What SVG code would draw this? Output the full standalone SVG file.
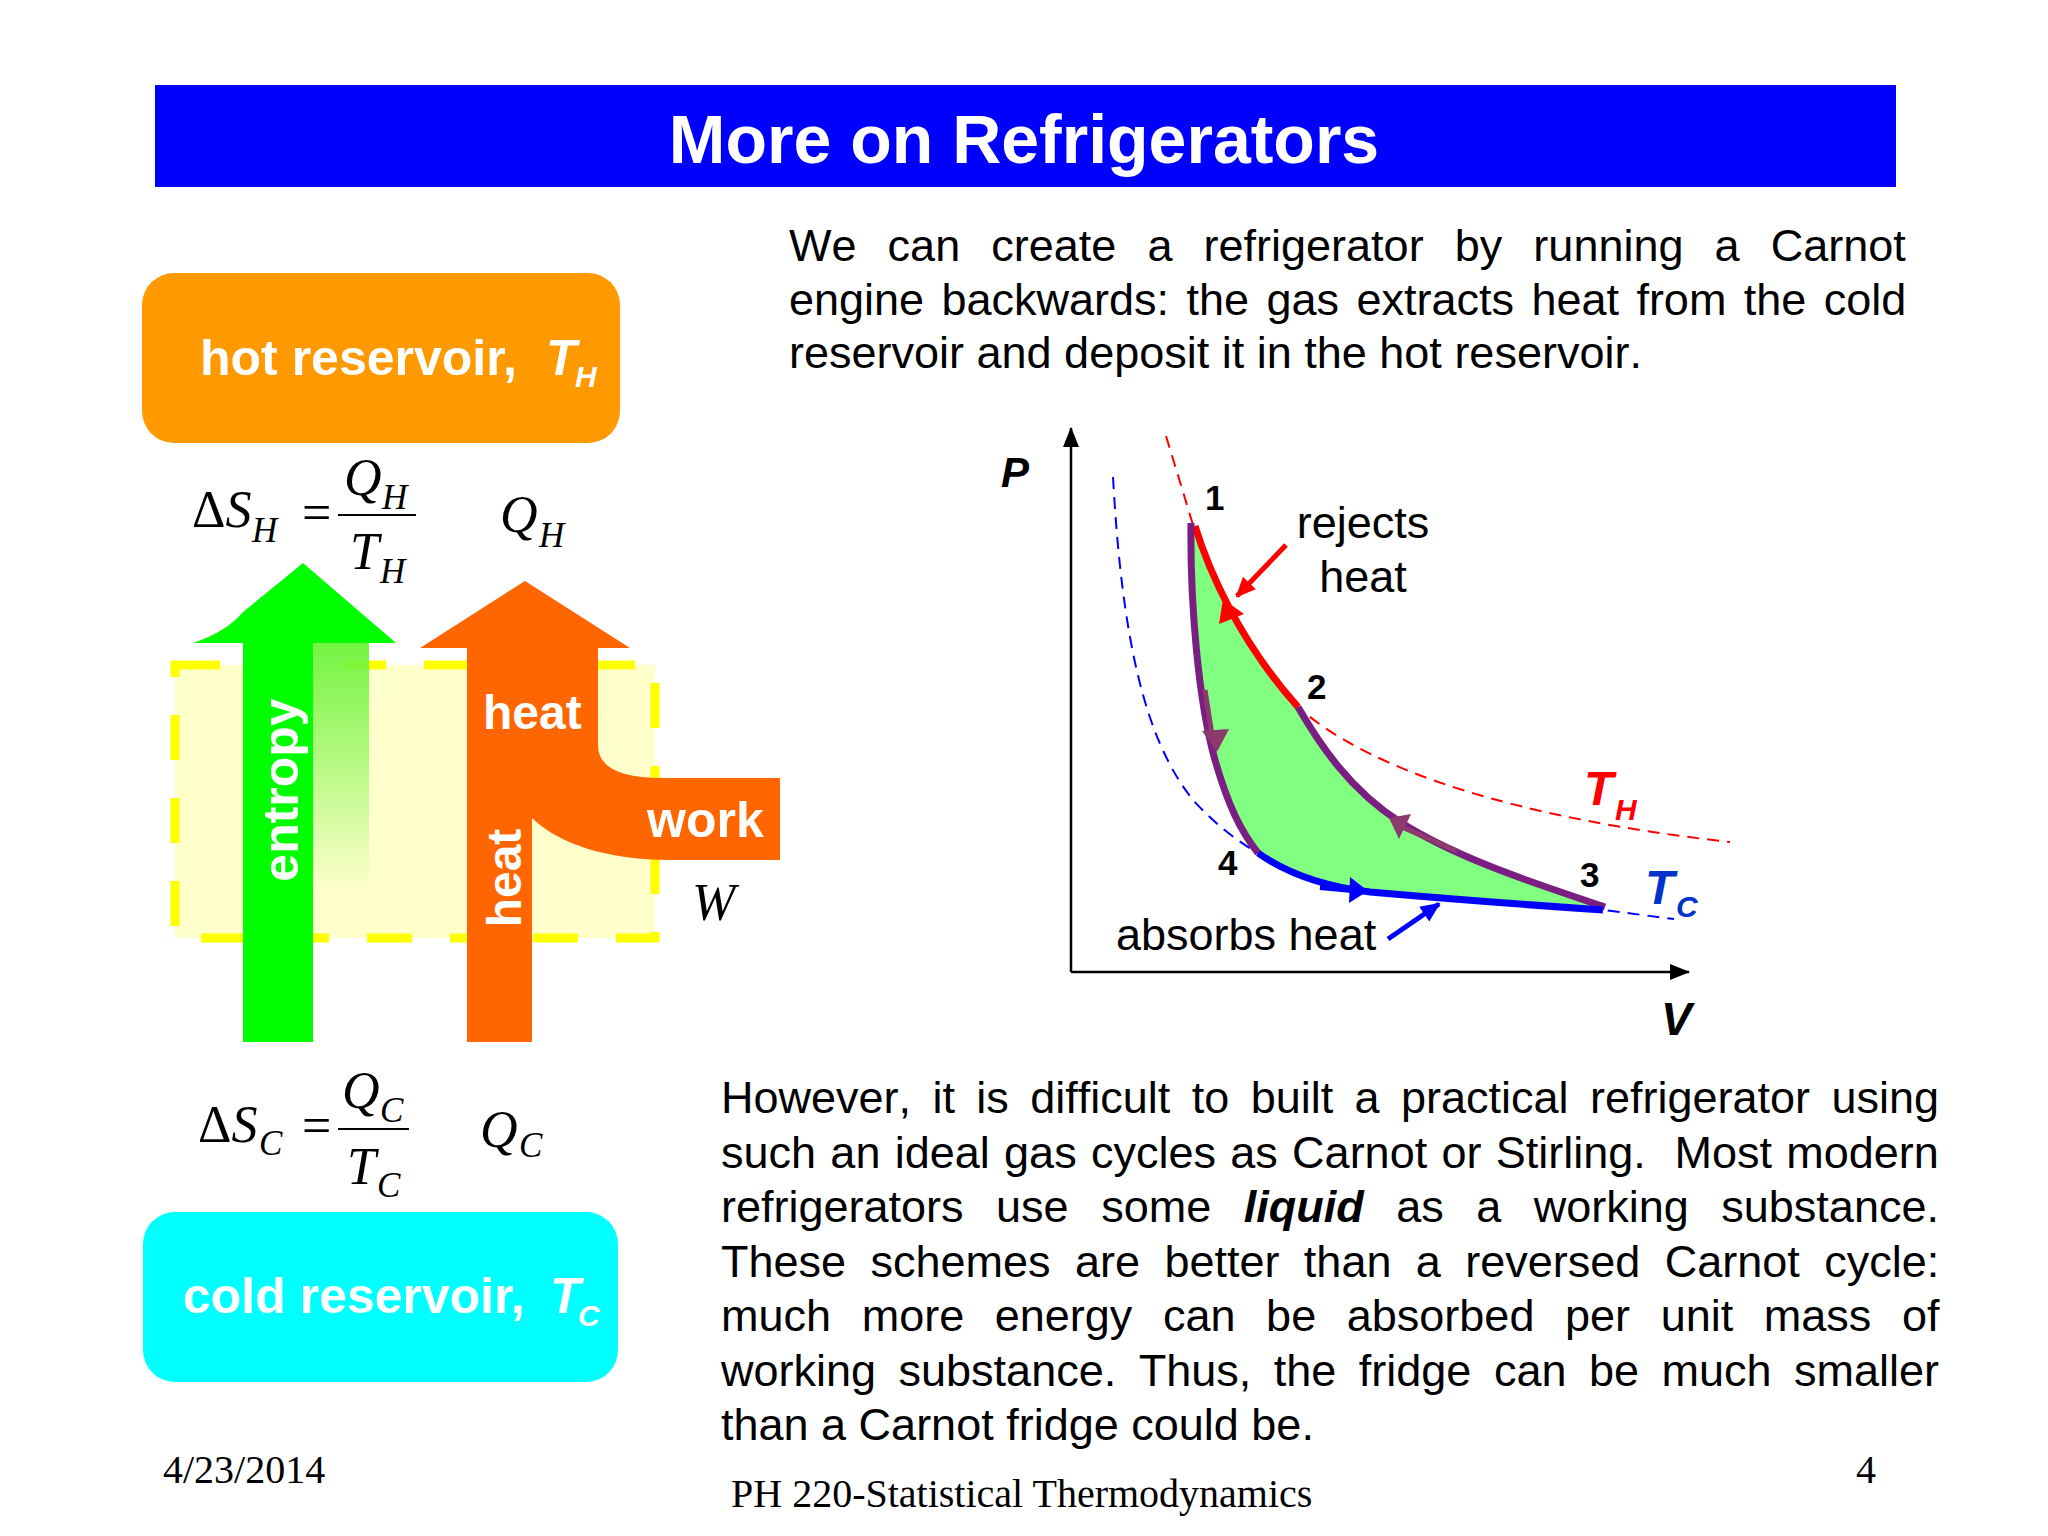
<svg xmlns="http://www.w3.org/2000/svg" width="2048" height="1536" viewBox="0 0 2048 1536">
  <style>
    .sans { font-family: "Liberation Sans", Arial, sans-serif; }
    .serif { font-family: "Liberation Serif", "Times New Roman", serif; }
    .body { font-family: "Liberation Sans", Arial, sans-serif; font-size: 45px; fill: #000; font-kerning: none; }
    .wlbl { font-family: "Liberation Sans", Arial, sans-serif; font-weight: bold; fill: #fff; }
    .eq { font-family: "Liberation Serif", "Times New Roman", serif; font-size: 52px; fill: #000; }
    .eqsub { font-size: 35px; font-style: italic; }
    .num { font-family: "Liberation Sans", Arial, sans-serif; font-weight: bold; font-size: 35px; fill: #000; }
    .foot { font-family: "Liberation Serif", "Times New Roman", serif; font-size: 40px; fill: #000; }
  </style>
  <defs>
    <linearGradient id="entGrad" x1="0" y1="0" x2="0" y2="1">
      <stop offset="0" stop-color="#74F440" stop-opacity="1"/>
      <stop offset="1" stop-color="#74F440" stop-opacity="0"/>
    </linearGradient>
    <marker id="axisHead" markerUnits="userSpaceOnUse" markerWidth="20" markerHeight="18" viewBox="0 0 20 18" refX="19" refY="9" orient="auto">
      <path d="M0,1 L20,9 L0,17 Z" fill="#000"/>
    </marker>
    <marker id="redHead" markerUnits="userSpaceOnUse" markerWidth="20" markerHeight="20" viewBox="0 0 20 20" refX="18" refY="10" orient="auto">
      <path d="M0,1 L20,10 L0,19 Z" fill="#FF0000"/>
    </marker>
    <marker id="blueHead" markerUnits="userSpaceOnUse" markerWidth="20" markerHeight="20" viewBox="0 0 20 20" refX="18" refY="10" orient="auto">
      <path d="M0,1 L20,10 L0,19 Z" fill="#0000FF"/>
    </marker>
  </defs>

  <rect width="2048" height="1536" fill="#ffffff"/>

  <g id="title">
    <rect x="155" y="85" width="1741" height="102" fill="#0000FF"/>
    <text x="1024" y="163" text-anchor="middle" class="wlbl" font-size="68">More on Refrigerators</text>
  </g>

  <g id="hot-reservoir">
    <rect x="142" y="273" width="478" height="170" rx="32" fill="#FF9900"/>
    <text y="375" class="wlbl" font-size="50"><tspan x="200">hot reservoir,</tspan><tspan x="546" font-style="italic">T</tspan><tspan x="575" y="387" font-style="italic" font-size="30">H</tspan></text>
  </g>

  <g id="eq-hot">
    <text class="eq" y="527"><tspan x="192">Δ</tspan><tspan font-style="italic">S</tspan><tspan class="eqsub" x="252" y="542">H</tspan></text>
    <text class="eq" x="302" y="530">=</text>
    <line x1="338" y1="515" x2="416" y2="515" stroke="#000" stroke-width="2"/>
    <text class="eq" y="495"><tspan x="344" font-style="italic">Q</tspan><tspan class="eqsub" x="382" y="509">H</tspan></text>
    <text class="eq" y="569"><tspan x="350" font-style="italic">T</tspan><tspan class="eqsub" x="380" y="583">H</tspan></text>
    <text class="eq" y="532"><tspan x="500" font-style="italic">Q</tspan><tspan class="eqsub" x="539" y="547">H</tspan></text>
  </g>

  <g id="engine-box">
    <rect x="175" y="665" width="480" height="273" fill="#FFFFCC" stroke="#FFFF00" stroke-width="9" stroke-dasharray="45 38"/>
  </g>

  <g id="entropy-arrow">
    <path d="M303,563 L396,643 L313,643 L313,1042 L243,1042 L243,643 L193,643 Q226,632 243,612 Z" fill="#00FF00"/>
    <rect x="313" y="643" width="56" height="250" fill="url(#entGrad)"/>
    <text transform="translate(298,790) rotate(-90)" text-anchor="middle" class="wlbl" font-size="50">entropy</text>
  </g>

  <g id="heat-arrow">
    <path d="M525,581 L630,648 L598,648 L598,745 Q598,778 662,778 L780,778 L780,860 L670,860 C610,860 560,845 532,818 L532,1042 L467,1042 L467,648 L420,648 Z" fill="#FF6600"/>
    <text x="483" y="729" class="wlbl" font-size="48">heat</text>
    <text transform="translate(521,878) rotate(-90)" text-anchor="middle" class="wlbl" font-size="48">heat</text>
    <text x="647" y="837" class="wlbl" font-size="50">work</text>
    <text x="692" y="920" class="serif" font-size="52" font-style="italic">W</text>
  </g>

  <g id="eq-cold">
    <text class="eq" y="1142"><tspan x="198">Δ</tspan><tspan font-style="italic">S</tspan><tspan class="eqsub" x="259" y="1155">C</tspan></text>
    <text class="eq" x="302" y="1143">=</text>
    <line x1="338" y1="1129" x2="409" y2="1129" stroke="#000" stroke-width="2"/>
    <text class="eq" y="1108"><tspan x="342" font-style="italic">Q</tspan><tspan class="eqsub" x="380" y="1122">C</tspan></text>
    <text class="eq" y="1184"><tspan x="347" font-style="italic">T</tspan><tspan class="eqsub" x="377" y="1197">C</tspan></text>
    <text class="eq" y="1147"><tspan x="480" font-style="italic">Q</tspan><tspan class="eqsub" x="519" y="1157">C</tspan></text>
  </g>

  <g id="cold-reservoir">
    <rect x="143" y="1212" width="475" height="170" rx="32" fill="#00FFFF"/>
    <text y="1313" class="wlbl" font-size="50"><tspan x="183">cold reservoir,</tspan><tspan x="550" font-style="italic">T</tspan><tspan x="578" y="1326" font-style="italic" font-size="30">C</tspan></text>
  </g>

  <g id="intro-text" class="body">
    <text x="789" y="261" word-spacing="18.6">We can create a refrigerator by running a Carnot</text>
    <text x="789" y="315" word-spacing="4.9">engine backwards: the gas extracts heat from the cold</text>
    <text x="789" y="368">reservoir and deposit it in the hot reservoir.</text>
  </g>

  <g id="pv-diagram">
    <g id="axes" fill="none" stroke="#000" stroke-width="2.5">
      <line x1="1071" y1="972" x2="1071" y2="428" marker-end="url(#axisHead)"/>
      <line x1="1071" y1="972" x2="1689" y2="972" marker-end="url(#axisHead)"/>
    </g>
    <text x="1001" y="487" class="sans" font-size="42" font-weight="bold" font-style="italic">P</text>
    <text x="1661" y="1035" class="sans" font-size="46" font-weight="bold" font-style="italic">V</text>

    <path id="cycle-fill" d="M1193,525 C1208,568 1238,640 1298,707 C1320,745 1350,790 1400,822 C1460,860 1540,885 1605,908 C1530,905 1450,899 1370,892 C1320,886 1285,872 1258,853 C1240,830 1228,805 1215,760 C1198,700 1190,600 1193,525 Z" fill="#80FF80"/>

    <path id="isotherm-hot" d="M1166,436 Q1181,485 1193,525 C1208,568 1238,640 1298,707 C1371,772 1522,819 1730,842" fill="none" stroke="#FF0000" stroke-width="2" stroke-dasharray="12 8"/>
    <path id="isotherm-cold" d="M1113,477 C1122,640 1145,740 1193,800 C1213,822 1235,840 1258,853 C1285,872 1320,886 1370,892 C1450,899 1530,905 1603,910 L1674,919" fill="none" stroke="#0000FF" stroke-width="2" stroke-dasharray="12 8"/>

    <path id="path-1-2" d="M1195,526 C1208,568 1238,640 1298,707" fill="none" stroke="#FF0000" stroke-width="7"/>
    <path id="path-2-3" d="M1298,707 C1320,745 1350,790 1400,822 C1460,860 1540,885 1605,907" fill="none" stroke="#7A1E82" stroke-width="7"/>
    <path id="path-4-3" d="M1258,853 C1285,872 1320,886 1370,892 C1450,899 1530,905 1603,910" fill="none" stroke="#0000FF" stroke-width="7"/>
    <path id="path-4-1" d="M1191,523 C1190,600 1198,700 1215,760 C1228,805 1240,830 1258,853" fill="none" stroke="#7A1E82" stroke-width="7"/>

    <g id="cycle-arrows">
      <polygon points="1223,599 1244,614 1219,624" fill="#FF0000"/>
      <line x1="1205" y1="690" x2="1212" y2="735" stroke="#8C3A6C" stroke-width="5"/>
      <polygon points="1217,752 1202,731 1229,729" fill="#8C3A6C"/>
      <line x1="1404" y1="828" x2="1457" y2="851" stroke="#8C3A6C" stroke-width="5"/>
      <polygon points="1389,818 1411,814 1399,839" fill="#8C3A6C"/>
      <line x1="1320" y1="887" x2="1352" y2="890" stroke="#0000FF" stroke-width="6"/>
      <polygon points="1368,891 1350,877 1349,903" fill="#0000FF"/>
    </g>

    <text x="1205" y="510" class="num">1</text>
    <text x="1307" y="699" class="num">2</text>
    <text x="1580" y="887" class="num">3</text>
    <text x="1218" y="875" class="num">4</text>

    <text x="1363" y="538" text-anchor="middle" class="body">rejects</text>
    <text x="1363" y="592" text-anchor="middle" class="body">heat</text>
    <text x="1116" y="950" class="body">absorbs heat</text>

    <text x="1584" y="805" class="sans" font-size="48" font-weight="bold" font-style="italic" fill="#FF0000">T<tspan x="1615" y="820" font-size="30">H</tspan></text>
    <text x="1645" y="904" class="sans" font-size="48" font-weight="bold" font-style="italic" fill="#0033CC">T<tspan x="1676" y="917" font-size="30">C</tspan></text>
  </g>

  <g id="connectors" fill="none" stroke-width="5">
    <line x1="1286" y1="545" x2="1237" y2="596" stroke="#FF0000" marker-end="url(#redHead)"/>
    <line x1="1388" y1="939" x2="1439" y2="904" stroke="#0000FF" marker-end="url(#blueHead)"/>
  </g>

  <g id="body-text" class="body">
    <text x="721" y="1113" word-spacing="8.9">However, it is difficult to built a practical refrigerator using</text>
    <text x="721" y="1167.5" word-spacing="1.8">such an ideal gas cycles as Carnot or Stirling.&#160; Most modern</text>
    <text x="721" y="1222" word-spacing="20">refrigerators use some <tspan font-weight="bold" font-style="italic">liquid</tspan> as a working substance.</text>
    <text x="721" y="1276.5" word-spacing="11.9">These schemes are better than a reversed Carnot cycle:</text>
    <text x="721" y="1331" word-spacing="18.1">much more energy can be absorbed per unit mass of</text>
    <text x="721" y="1385.5" word-spacing="10">working substance. Thus, the fridge can be much smaller</text>
    <text x="721" y="1440">than a Carnot fridge could be.</text>
  </g>

  <g id="footer">
    <text x="163" y="1483" class="foot">4/23/2014</text>
    <text x="731" y="1507" class="foot">PH 220-Statistical Thermodynamics</text>
    <text x="1856" y="1483" class="foot">4</text>
  </g>
</svg>
